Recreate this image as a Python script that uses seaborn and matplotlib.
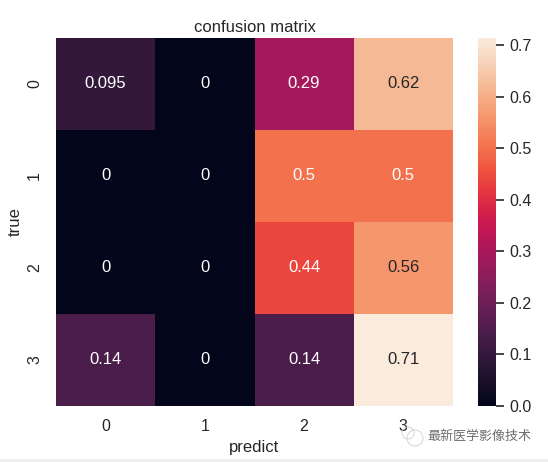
import numpy as np
import matplotlib
matplotlib.use("Agg")
import matplotlib.pyplot as plt
from matplotlib.patches import Circle, Rectangle
import seaborn as sns

# confusion matrix values
row0 = [0.095, 0, 0.29, 0.62]
row1 = [0, 0, 0.5, 0.5]
row2 = [0, 0, 0.44, 0.56]
row3 = [0.14, 0, 0.14, 0.714]
labels = ["0", "1", "2", "3"]

sns.set_theme(style="white")
plt.rcParams['font.family'] = ['Liberation Sans', 'Noto Sans CJK SC', 'DejaVu Sans']

W, H = 548, 462
cm = np.array([row0, row1, row2, row3])

fig = plt.figure(figsize=(W / 100, H / 100), dpi=100)
ax = fig.add_axes([56 / W, 1 - 405.5 / H, (453 - 56) / W, (405.5 - 38) / H])
cax = fig.add_axes([478 / W, 1 - 405.5 / H, (496 - 478) / W, (405.5 - 38) / H])

sns.heatmap(cm, annot=True, annot_kws={"size": 12}, ax=ax, cbar_ax=cax,
            xticklabels=labels, yticklabels=labels)
ax.set_title("confusion matrix", fontsize=12, pad=4.5)
ax.set_xlabel("predict", fontsize=12, labelpad=4)
ax.set_ylabel("true", fontsize=12, labelpad=3)
ax.tick_params(labelsize=11.5, length=0, pad=10)
cax.tick_params(labelsize=11.5, length=5.5, width=1.2, color="#262626", pad=4, right=True)

# grey strip at the bottom of the screenshot
fig.patches.append(Rectangle((0, 0), 1, 3 / H, transform=fig.transFigure,
                             facecolor="#f0f0f0", edgecolor="none", figure=fig))

# watermark
for cx, cy, r in [(408, 433, 6), (415, 438, 8)]:
    fig.patches.append(Circle((cx, H - cy), r, transform=None, facecolor="none",
                              edgecolor="#cfcfcf", linewidth=0.6, figure=fig, zorder=5))
fig.text(427 / W, 1 - 437 / H, "最新医学影像技术", fontsize=9.4, color="#6e6e6e", va="center")

fig.savefig("out.png", dpi=100)
